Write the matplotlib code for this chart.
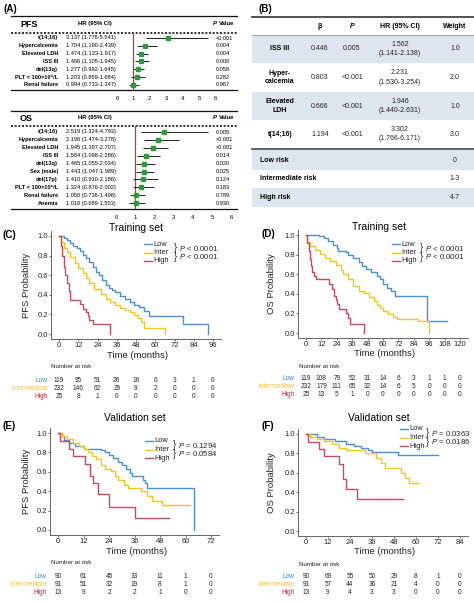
import matplotlib
matplotlib.use("Agg")
import matplotlib.pyplot as plt
from matplotlib.patches import Rectangle
from matplotlib.transforms import blended_transform_factory as blend

plt.rcParams['font.family'] = ['Liberation Sans', 'DejaVu Sans']
plt.rcParams['mathtext.fontset'] = 'custom'
plt.rcParams['mathtext.rm'] = 'Liberation Sans'
plt.rcParams['mathtext.it'] = 'Liberation Sans:italic'
plt.rcParams['mathtext.bf'] = 'Liberation Sans:bold'

# ---------------- data: (A) forest plots
pfs_vars = ['t(14;16)', 'Hypercalcemia', 'Elevated LDH', 'ISS III', 'del(13q)',
            'PLT < 100×10⁹/L', 'Renal failure']
pfs_hr = [3.137, 1.704, 1.474, 1.466, 1.277, 1.203, 0.994]
pfs_lo = [1.776, 1.190, 1.133, 1.105, 0.992, 0.859, 0.733]
pfs_hi = [5.541, 2.439, 1.917, 1.945, 1.645, 1.684, 1.347]
pfs_p = ['<0.001', '0.004', '0.004', '0.008', '0.058', '0.282', '0.967']

os_vars = ['t(14;16)', 'Hypercalcemia', 'Elevated LDH', 'ISS III', 'del(13q)',
           'Sex (male)', 'del(17p)', 'PLT < 100×10⁹/L', 'Renal failure', 'Anemia']
os_hr = [2.519, 2.198, 1.945, 1.584, 1.465, 1.443, 1.410, 1.324, 1.050, 1.018]
os_lo = [1.324, 1.474, 1.397, 1.098, 1.055, 1.047, 0.910, 0.876, 0.736, 0.689]
os_hi = [4.793, 3.278, 2.707, 2.286, 2.034, 1.989, 2.186, 2.002, 1.498, 1.503]
os_p = ['0.005', '<0.001', '<0.001', '0.014', '0.020', '0.025', '0.124', '0.183',
        '0.789', '0.930']

# ---------------- data: (B) score table
b_vars = ['ISS III', 'Hyper-\ncalcemia', 'Elevated\nLDH', 't(14;16)']
b_beta = ['0.446', '0.803', '0.666', '1.194']
b_p = ['0.005', '<0.001', '<0.001', '<0.001']
b_hr = ['1.562', '2.231', '1.946', '3.302']
b_ci = ['(1.141-2.138)', '(1.530-3.254)', '(1.440-2.631)', '(1.766-6.171)']
b_weight = ['1.0', '2.0', '1.0', '3.0']
risk_names = ['Low risk', 'Intermediate risk', 'High risk']
risk_scores = ['0', '1-3', '4-7']

# ---------------- data: Kaplan-Meier curves (months, survival)
c_low_t = [0, 3, 5, 7, 9, 11, 13, 15, 17, 19, 21, 23, 25, 27, 29, 31, 33, 35, 38, 41, 44, 47, 50, 53, 56, 77, 93]
c_low_s = [1.0, 0.98, 0.96, 0.93, 0.9, 0.88, 0.85, 0.81, 0.77, 0.73, 0.68, 0.63, 0.6, 0.55, 0.5, 0.47, 0.45, 0.43, 0.39, 0.36, 0.33, 0.3, 0.28, 0.24, 0.18, 0.10, 0.0]
c_int_t = [0, 1, 3, 5, 7, 10, 12, 15, 17, 19, 22, 26, 29, 32, 35, 38, 41, 44, 47, 49, 51, 53, 66]
c_int_s = [1.0, 0.94, 0.88, 0.84, 0.79, 0.72, 0.67, 0.62, 0.57, 0.52, 0.46, 0.41, 0.36, 0.33, 0.3, 0.27, 0.25, 0.22, 0.19, 0.16, 0.12, 0.06, 0.0]
c_high_t = [0, 1, 2, 3, 4, 5, 6, 7, 12, 13, 15, 17, 18, 19, 21, 32]
c_high_s = [1.0, 0.9, 0.8, 0.68, 0.6, 0.52, 0.44, 0.35, 0.35, 0.31, 0.26, 0.22, 0.18, 0.14, 0.10, 0.0]

d_low_t = [0, 10, 14, 17, 21, 24, 25, 31, 33, 37, 41, 44, 47, 51, 55, 58, 60, 63, 66, 69, 94, 110]
d_low_s = [1.0, 0.99, 0.97, 0.94, 0.9, 0.87, 0.84, 0.83, 0.8, 0.77, 0.72, 0.68, 0.65, 0.62, 0.58, 0.55, 0.5, 0.46, 0.43, 0.38, 0.12, 0.12]
d_int_t = [0, 1, 3, 7, 11, 15, 19, 23, 27, 29, 33, 37, 41, 45, 49, 53, 55, 58, 60, 64, 68, 71, 87, 96]
d_int_s = [1.0, 0.93, 0.89, 0.85, 0.81, 0.77, 0.73, 0.69, 0.64, 0.6, 0.55, 0.48, 0.43, 0.41, 0.37, 0.33, 0.29, 0.26, 0.22, 0.19, 0.16, 0.14, 0.12, 0.0]
d_high_t = [0, 1, 2, 3, 4, 5, 6, 8, 18, 20, 22, 23, 24, 26, 31, 33, 34, 45]
d_high_s = [1.0, 0.92, 0.84, 0.76, 0.68, 0.62, 0.58, 0.55, 0.5, 0.45, 0.38, 0.34, 0.3, 0.25, 0.2, 0.15, 0.09, 0.0]

e_low_t = [0, 2, 3, 5, 8, 12, 20, 22, 24, 26, 28, 30, 32, 34, 35, 40, 41, 42, 64]
e_low_s = [1.0, 0.97, 0.93, 0.9, 0.87, 0.84, 0.82, 0.8, 0.77, 0.74, 0.7, 0.67, 0.63, 0.59, 0.56, 0.52, 0.48, 0.43, 0.0]
e_int_t = [0, 2, 4, 7, 10, 12, 14, 16, 18, 20, 22, 25, 27, 28, 31, 33, 39, 42, 44, 49, 62]
e_int_s = [1.0, 0.97, 0.94, 0.9, 0.87, 0.84, 0.8, 0.76, 0.73, 0.67, 0.63, 0.61, 0.56, 0.52, 0.46, 0.43, 0.4, 0.35, 0.3, 0.26, 0.26]
e_high_t = [0, 1, 5, 7, 12.5, 15, 16.5, 19, 24, 36, 52]
e_high_s = [1.0, 0.92, 0.84, 0.76, 0.68, 0.56, 0.48, 0.37, 0.24, 0.12, 0.12]

f_low_t = [0, 6, 10, 16, 22, 26, 30, 34, 36, 50, 72]
f_low_s = [1.0, 0.97, 0.95, 0.93, 0.9, 0.88, 0.86, 0.83, 0.81, 0.78, 0.78]
f_int_t = [0, 2, 6, 10, 14, 18, 22, 32, 38, 41, 43, 52, 54, 56, 61]
f_int_s = [1.0, 0.97, 0.95, 0.93, 0.9, 0.86, 0.84, 0.8, 0.75, 0.7, 0.65, 0.6, 0.55, 0.49, 0.49]
f_high_t = [0, 1, 7, 10, 18, 20, 22, 28, 53]
f_high_s = [1.0, 0.92, 0.85, 0.77, 0.69, 0.54, 0.43, 0.33, 0.33]

c_pvals = [r'$\it{P}$ < 0.0001', r'$\it{P}$ < 0.0001']
d_pvals = [r'$\it{P}$ < 0.0001', r'$\it{P}$ < 0.0001']
e_pvals = [r'$\it{P}$ = 0.1294', r'$\it{P}$ = 0.0584']
f_pvals = [r'$\it{P}$ = 0.0363', r'$\it{P}$ = 0.0186']

# numbers at risk (Low, Intermediate, High)
c_risk = [[119, 95, 51, 26, 16, 6, 3, 1, 0],
          [232, 146, 62, 29, 9, 2, 0, 0, 0],
          [25, 8, 1, 0, 0, 0, 0, 0, 0]]
d_risk = [[119, 108, 79, 52, 31, 14, 6, 3, 1, 1, 0],
          [232, 179, 111, 65, 32, 14, 6, 5, 0, 0, 0],
          [25, 13, 5, 1, 0, 0, 0, 0, 0, 0, 0]]
e_risk = [[90, 61, 45, 33, 11, 1, 0],
          [91, 51, 32, 19, 8, 1, 0],
          [13, 9, 2, 2, 1, 0, 0]]
f_risk = [[90, 69, 55, 50, 29, 8, 1, 0],
          [91, 57, 44, 36, 21, 4, 0, 0],
          [13, 9, 4, 3, 3, 0, 0, 0]]

groups = ['Low', 'Inter', 'High']
risk_labels = ['Low', 'Intermediate', 'High']
colors = ['#4a8fd4', '#f2c523', '#c44a60']
risk_colors = ['#3a86d0', '#f5c33b', '#d0213c']

W, H = 474, 602
fig = plt.figure(figsize=(W / 100, H / 100), dpi=100)

# overlay in pixel units for texts, rules and shading
ov = fig.add_axes([0, 0, 1, 1])
ov.set_xlim(0, W)
ov.set_ylim(H, 0)
ov.axis('off')


def px_axes(x0, y0, x1, y1):
    return fig.add_axes([x0 / W, 1 - y1 / H, (x1 - x0) / W, (y1 - y0) / H])


# ---------------- (A)
ov.text(4, 9, '(A)', fontsize=7, weight='bold', va='center')


def forest(name, labels, hr, lo, hi, pv, y_top, y_dash, y_first, y_step, y_bot, x0, unit):
    ov.plot([11, 237], [y_top, y_top], color='#111', lw=0.9)
    ov.plot([11, 237], [y_dash, y_dash], color='#111', lw=1.2, ls=(0, (1.2, 1.0)))
    ov.plot([11, 237], [y_bot, y_bot], color='#111', lw=0.9)
    yh = (y_top + y_dash) / 2
    ov.text(20, yh, name, fontsize=6.5, weight='bold', va='center')
    ov.text(95, yh - 1, 'HR (95% CI)', fontsize=4.3, weight='bold', ha='center', va='center')
    ov.text(212.5, yh - 1, 'P', fontsize=4.3, weight='bold', style='italic', va='center')
    ov.text(219, yh - 1, 'Value', fontsize=4.3, weight='bold', va='center')

    ax = px_axes(x0, y_dash, x0 + 6 * unit, y_bot)
    ax.patch.set_visible(False)
    rows = list(range(len(labels)))
    ax.set_xlim(0, 6)
    ax.set_ylim((y_bot - y_first) / y_step, (y_dash - y_first) / y_step)
    ax.axvline(1, color='#c0392b', lw=0.9, zorder=1)
    xerr = [[h - l for h, l in zip(hr, lo)], [u - h for h, u in zip(hr, hi)]]
    ax.errorbar(hr, rows, xerr=xerr, fmt='s', ms=2.6, mfc='#2f9a3c', mec='#2f9a3c',
                ecolor='#222', elinewidth=0.7, capsize=0, zorder=3)
    tr = blend(ov.transData, ax.transData)
    for i in rows:
        ax.text(58, i, labels[i], transform=tr, ha='right', va='center', fontsize=4.1, weight='bold')
        ax.text(66, i, f'{hr[i]:.3f} ({lo[i]:.3f}-{hi[i]:.3f})', transform=tr,
                va='center', fontsize=4.1)
        ax.text(216, i, pv[i], transform=tr, va='center', fontsize=4.1)
    ax.set_xticks(range(7))
    ax.tick_params(axis='x', length=0, labelsize=4.3, pad=4)
    ax.set_yticks([])
    for s in ax.spines.values():
        s.set_visible(False)


forest('PFS', pfs_vars, pfs_hr, pfs_lo, pfs_hi, pfs_p, 16, 33, 38, 7.83, 90, 117, 16.4)
forest('OS', os_vars, os_hr, os_lo, os_hi, os_p, 111, 126, 132, 7.9, 209, 116, 19.2)

# ---------------- (B)
ov.text(259, 9, '(B)', fontsize=7, weight='bold', va='center')
bx0, bx1 = 252, 474
col_x = [280, 320, 352, 400, 455]
shade = '#dde5ef'
row_edges = [35, 63, 92, 120, 148]
low_edges = [150, 170, 188, 207]
hdr_y = 26
ov.text(col_x[1], hdr_y, 'β', fontsize=5, weight='bold', ha='center', va='center')
ov.text(col_x[2], hdr_y, 'P', fontsize=5, weight='bold', style='italic', ha='center', va='center')
ov.text(col_x[3], hdr_y, 'HR (95% CI)', fontsize=5, weight='bold', ha='center', va='center')
ov.text(col_x[4], hdr_y, 'Weight', fontsize=5, weight='bold', ha='center', va='center')
for i in range(len(b_vars)):
    top, bot = row_edges[i], row_edges[i + 1]
    if i % 2 == 0:
        ov.add_patch(Rectangle((bx0, top), bx1 - bx0, bot - top, color=shade, lw=0))
    ym = (top + bot) / 2
    ov.text(col_x[0], ym, b_vars[i], fontsize=5, weight='bold', ha='center', va='center',
            linespacing=1.3)
    ov.text(col_x[1], ym, b_beta[i], fontsize=5, ha='center', va='center', color='#222')
    ov.text(col_x[2], ym, b_p[i], fontsize=5, ha='center', va='center', color='#222')
    ov.text(col_x[3], ym - 4.5, b_hr[i], fontsize=5, ha='center', va='center', color='#222')
    ov.text(col_x[3], ym + 4.5, b_ci[i], fontsize=5, ha='center', va='center', color='#222')
    ov.text(col_x[4], ym, b_weight[i], fontsize=5, ha='center', va='center', color='#222')
for i in range(len(risk_names)):
    top, bot = low_edges[i], low_edges[i + 1]
    if i % 2 == 0:
        ov.add_patch(Rectangle((bx0, top), bx1 - bx0, bot - top, color=shade, lw=0))
    ym = (top + bot) / 2
    ov.text(260, ym, risk_names[i], fontsize=5, weight='bold', va='center')
    ov.text(col_x[4], ym, risk_scores[i], fontsize=5, ha='center', va='center', color='#222')
ov.plot([bx0, bx1], [17, 17], color='#444', lw=1.3)
ov.plot([bx0, bx1], [35, 35], color='#999', lw=0.6)
ov.plot([bx0, bx1], [149, 149], color='#555', lw=1.3)


# ---------------- KM panels
def km_panel(tag, tag_xy, title, title_xy, box, xmax, curves, pvals, leg, ylab, ylab_x,
             xlab_y, risk, risk_box, nar_xy):
    x0, y0, x1, y1 = box
    pad = xmax * 0.05
    ax = px_axes(x0, y0, x1, y1)
    ax.patch.set_visible(False)
    for (t, s), c in zip(curves, colors):
        ax.step(t, s, where='post', color=c, lw=1.0)
    ax.set_xlim(-pad, xmax + pad)
    ax.set_ylim(-0.05, 1.05)
    ax.set_xticks(range(0, xmax + 1, 12))
    ax.set_yticks([0, 0.2, 0.4, 0.6, 0.8, 1.0])
    ax.set_yticklabels(['0.0', '0.2', '0.4', '0.6', '0.8', '1.0'])
    ax.tick_params(labelsize=5.5, length=1.5, width=0.6, color='#555', labelcolor='#222', pad=1)
    for s in ['top', 'right']:
        ax.spines[s].set_visible(False)
    for s in ['left', 'bottom']:
        ax.spines[s].set_color('#666')
        ax.spines[s].set_linewidth(0.7)

    ov.text(tag_xy[0], tag_xy[1], tag, fontsize=7, weight='bold', va='center')
    ov.text(title_xy[0], title_xy[1], title, fontsize=7.5, ha='center', va='center')
    ov.text(ylab_x, (y0 + y1) / 2, ylab, fontsize=6.8, rotation=90, ha='center', va='center',
            color='#222')
    ov.text((x0 + x1) / 2 + 2, xlab_y, 'Time (months)', fontsize=6.8, ha='center',
            va='center', color='#222')

    # legend with braces
    lx, ly, dy, bx = leg
    for i, (g, c) in enumerate(zip(groups, colors)):
        yy = ly + i * dy
        ov.plot([lx, lx + 8], [yy, yy], color=c, lw=1.0)
        ov.text(lx + 9.5, yy, g, fontsize=5.4, va='center', color='#222')
    for j in range(2):
        yb = ly + (j + 0.5) * dy
        ov.text(bx, yb, '}', fontsize=7, va='center', ha='left', color='#333')
        ov.text(bx + 5, yb, pvals[j], fontsize=5.6, va='center', color='#222')

    # number at risk table
    ov.text(nar_xy[0], nar_xy[1], 'Number at risk', fontsize=4.5, va='center', color='#222')
    rx0, ry0, rx1, ry1 = risk_box
    rax = px_axes(x0, ry0, x1, ry1)
    rax.set_xlim(-pad, xmax + pad)
    rax.set_ylim(3, 0)
    rax.axis('off')
    times = list(range(0, xmax + 1, 12))
    for i, row in enumerate(risk):
        rax.text(-0.02, i + 0.5, risk_labels[i], transform=blend(rax.transAxes, rax.transData),
                 fontsize=4.7, ha='right', va='center', color=risk_colors[i])
        for t, n in zip(times, row):
            rax.text(t, i + 0.5, str(n), fontsize=4.7, ha='center', va='center', color='#222')


km_panel('(C)', (3, 235), 'Training set', (136, 228), (51.3, 231, 220.7, 339), 96,
         [(c_low_t, c_low_s), (c_int_t, c_int_s), (c_high_t, c_high_s)], c_pvals,
         (144, 244, 8.5, 174), 'PFS Probability', 27, 355, c_risk, (0, 376, 0, 400), (51, 367))
km_panel('(D)', (262, 234), 'Training set', (379, 227), (298.3, 230.1, 467.7, 337.9), 120,
         [(d_low_t, d_low_s), (d_int_t, d_int_s), (d_high_t, d_high_s)], d_pvals,
         (392, 244, 8.5, 420), 'OS Probability', 272, 354, d_risk, (0, 374, 0, 398), (299, 367))
km_panel('(E)', (3, 426), 'Validation set', (135, 418), (50.35, 428.15, 218.65, 534.85), 72,
         [(e_low_t, e_low_s), (e_int_t, e_int_s), (e_high_t, e_high_s)], e_pvals,
         (145, 441, 8.5, 173), 'PFS Probability', 27, 552, e_risk, (0, 572, 0, 596), (51, 562))
km_panel('(F)', (262, 426), 'Validation set', (379, 418), (298.25, 429.15, 467.75, 535.85), 84,
         [(f_low_t, f_low_s), (f_int_t, f_int_s), (f_high_t, f_high_s)], f_pvals,
         (400, 429, 8.5, 426), 'OS Probability', 272, 552, f_risk, (0, 573, 0, 597), (299, 564))

fig.savefig('out.png', dpi=100)
